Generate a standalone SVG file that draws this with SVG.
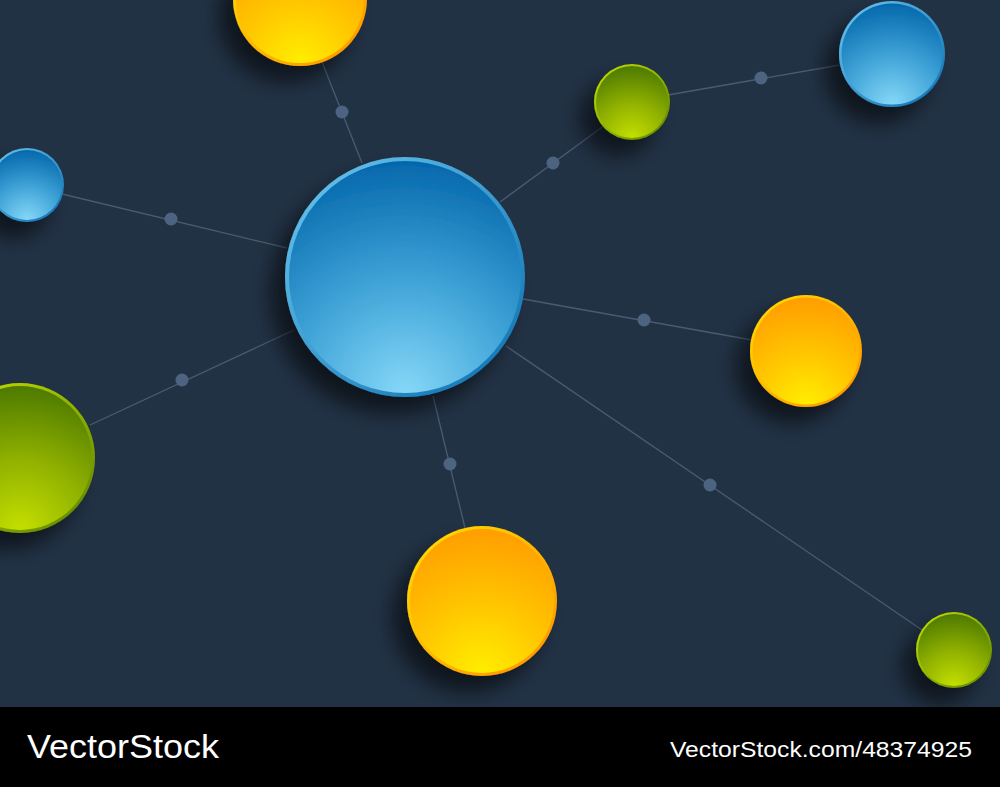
<svg xmlns="http://www.w3.org/2000/svg" width="1000" height="787" viewBox="0 0 1000 787">
<defs>
<radialGradient id="gBlue" cx="0.5" cy="1" r="1" fx="0.5" fy="1">
<stop offset="0" stop-color="#86d8f8"/><stop offset="0.5" stop-color="#3ea2d6"/><stop offset="1" stop-color="#0468ac"/>
</radialGradient>
<radialGradient id="gYellow" cx="0.5" cy="1" r="1" fx="0.5" fy="1">
<stop offset="0" stop-color="#ffee00"/><stop offset="0.5" stop-color="#ffc400"/><stop offset="1" stop-color="#ff9e00"/>
</radialGradient>
<radialGradient id="gGreen" cx="0.5" cy="1" r="1" fx="0.5" fy="1">
<stop offset="0" stop-color="#c4e000"/><stop offset="0.5" stop-color="#8fb000"/><stop offset="1" stop-color="#4d7a00"/>
</radialGradient>
<linearGradient id="rBlue" x1="0" y1="0" x2="1" y2="1"><stop offset="0" stop-color="#6cc8f0"/><stop offset="1" stop-color="#0a6eb0"/></linearGradient>
<linearGradient id="rYellow" x1="0" y1="0" x2="1" y2="1"><stop offset="0" stop-color="#ffe000"/><stop offset="1" stop-color="#ff9000"/></linearGradient>
<linearGradient id="rGreen" x1="0" y1="0" x2="1" y2="1"><stop offset="0" stop-color="#c8e400"/><stop offset="1" stop-color="#5a8200"/></linearGradient>
<filter id="sh" x="-50%" y="-50%" width="200%" height="200%">
<feGaussianBlur in="SourceAlpha" stdDeviation="11"/>
<feOffset dx="-14" dy="16" result="b"/>
<feComponentTransfer><feFuncA type="linear" slope="0.6"/></feComponentTransfer>
<feMerge><feMergeNode/><feMergeNode in="SourceGraphic"/></feMerge>
</filter>
</defs>
<style>
.ln{stroke:#4a5b72;stroke-width:1.3;fill:none}
.dot{fill:#4d6480}
.lbl{fill:#ffffff;font-family:"Liberation Sans",Arial,sans-serif}
</style>
<rect x="0" y="0" width="1000" height="787" fill="#223245"/>
<g id="connectors">
<line class="ln" x1="362" y1="163" x2="322" y2="62"/><circle class="dot" cx="342" cy="112" r="6.5"/>
<line class="ln" x1="500" y1="202" x2="605" y2="125"/><circle class="dot" cx="553" cy="163" r="6.5"/>
<line class="ln" x1="668" y1="95" x2="840" y2="65"/><circle class="dot" cx="761" cy="78" r="6.5"/>
<line class="ln" x1="287" y1="248" x2="62" y2="194"/><circle class="dot" cx="171" cy="219" r="6.5"/>
<line class="ln" x1="523" y1="299" x2="752" y2="340"/><circle class="dot" cx="644" cy="320" r="6.5"/>
<line class="ln" x1="294" y1="330" x2="90" y2="425"/><circle class="dot" cx="182" cy="380" r="6.5"/>
<line class="ln" x1="433" y1="396" x2="465" y2="528"/><circle class="dot" cx="450" cy="464" r="6.5"/>
<line class="ln" x1="506" y1="346" x2="922" y2="630"/><circle class="dot" cx="710" cy="485" r="6.5"/>
</g>
<g id="node-center" filter="url(#sh)"><circle cx="405" cy="277" r="120" fill="url(#rBlue)"/><circle cx="405" cy="277" r="116" fill="url(#gBlue)"/></g>
<g id="node-top-yellow" filter="url(#sh)"><circle cx="300" cy="-1" r="67" fill="url(#rYellow)"/><circle cx="300" cy="-1" r="64" fill="url(#gYellow)"/></g>
<g id="node-top-right-blue" filter="url(#sh)"><circle cx="892" cy="54" r="53" fill="url(#rBlue)"/><circle cx="892" cy="54" r="50.5" fill="url(#gBlue)"/></g>
<g id="node-small-green" filter="url(#sh)"><circle cx="632" cy="102" r="38" fill="url(#rGreen)"/><circle cx="632" cy="102" r="36" fill="url(#gGreen)"/></g>
<g id="node-left-blue" filter="url(#sh)"><circle cx="27" cy="185" r="37" fill="url(#rBlue)"/><circle cx="27" cy="185" r="35" fill="url(#gBlue)"/></g>
<g id="node-right-yellow" filter="url(#sh)"><circle cx="806" cy="351" r="56" fill="url(#rYellow)"/><circle cx="806" cy="351" r="53.5" fill="url(#gYellow)"/></g>
<g id="node-left-green" filter="url(#sh)"><circle cx="20" cy="458" r="75" fill="url(#rGreen)"/><circle cx="20" cy="458" r="72" fill="url(#gGreen)"/></g>
<g id="node-bottom-yellow" filter="url(#sh)"><circle cx="482" cy="601" r="75" fill="url(#rYellow)"/><circle cx="482" cy="601" r="72" fill="url(#gYellow)"/></g>
<g id="node-bottom-right-green" filter="url(#sh)"><circle cx="954" cy="650" r="38" fill="url(#rGreen)"/><circle cx="954" cy="650" r="36" fill="url(#gGreen)"/></g>
<g id="footer">
<rect x="0" y="707" width="1000" height="80" fill="#000000"/>
<text class="lbl" x="27" y="758" font-size="33" textLength="192" lengthAdjust="spacingAndGlyphs">VectorStock</text>
<text class="lbl" x="972" y="757" font-size="22" text-anchor="end" textLength="302" lengthAdjust="spacingAndGlyphs">VectorStock.com/48374925</text>
</g>
</svg>
